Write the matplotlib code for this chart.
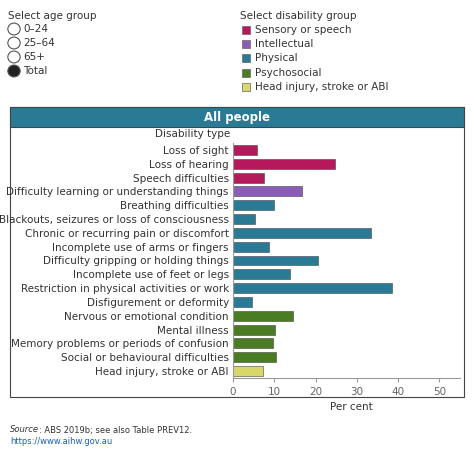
import matplotlib
matplotlib.use("Agg")
import matplotlib.pyplot as plt
from matplotlib.patches import Rectangle, Circle

categories = ["Loss of sight","Loss of hearing","Speech difficulties",
 "Difficulty learning or understanding things","Breathing difficulties",
 "Blackouts, seizures or loss of consciousness","Chronic or recurring pain or discomfort",
 "Incomplete use of arms or fingers","Difficulty gripping or holding things",
 "Incomplete use of feet or legs","Restriction in physical activities or work",
 "Disfigurement or deformity","Nervous or emotional condition","Mental illness",
 "Memory problems or periods of confusion","Social or behavioural difficulties",
 "Head injury, stroke or ABI"]
values = [5.7,24.6,7.5,16.6,9.9,5.3,33.5,8.8,20.6,13.7,38.5,4.6,14.5,10.2,9.6,10.4,7.3]
groups = ["Sensory or speech"]*3+["Intellectual"]+["Physical"]*8+["Psychosocial"]*4+["Head injury, stroke or ABI"]
group_names = ["Sensory or speech","Intellectual","Physical","Psychosocial","Head injury, stroke or ABI"]
group_colors = {"Sensory or speech":"#b5195b","Intellectual":"#8a5cb8","Physical":"#2a7a96",
                "Psychosocial":"#4a7d23","Head injury, stroke or ABI":"#d8d86a"}
age_groups = ["0–24","25–64","65+","Total"]
xticks = [0,10,20,30,40,50]

W,H = 474,455
fig = plt.figure(figsize=(W/100,H/100),dpi=100)
def fx(x): return x/W
def fy(y): return 1-y/H
tc = "#333333"
fig.text(fx(8),fy(16),"Select age group",fontsize=7.5,color=tc,va="center")
for i,a in enumerate(age_groups):
    y = 29+i*14
    fig.patches.append(Circle((fx(14),fy(y)),0.013,transform=fig.transFigure,
        facecolor="#222222" if a=="Total" else "white",edgecolor="#555555",lw=0.8))
    fig.text(fx(23),fy(y),a,fontsize=7.5,color=tc,va="center")
fig.text(fx(240),fy(16),"Select disability group",fontsize=7.5,color=tc,va="center")
for i,g in enumerate(group_names):
    y = 30+i*14.2
    fig.patches.append(Rectangle((fx(242),fy(y+4)),fx(8),8/H,transform=fig.transFigure,
        facecolor=group_colors[g],edgecolor="#666666",lw=0.5))
    fig.text(fx(255),fy(y),g,fontsize=7.5,color=tc,va="center")

# panel
fig.patches.append(Rectangle((fx(10),fy(397)),fx(454),290/H,transform=fig.transFigure,
    facecolor="white",edgecolor="#444444",lw=0.8,zorder=-10))
fig.patches.append(Rectangle((fx(10),fy(127)),fx(454),20/H,transform=fig.transFigure,
    facecolor="#2a7a96",edgecolor="#444444",lw=0.8,zorder=-9))
fig.text(fx(237),fy(117),"All people",fontsize=8.5,color="white",weight="bold",ha="center",va="center")
fig.text(fx(230),fy(134),"Disability type",fontsize=7.5,color=tc,ha="right",va="center")

ax = fig.add_axes([fx(233),fy(378),fx(460-233),(378-143)/H])
ax.patch.set_alpha(0)
y = range(len(categories))
ax.barh(list(y),values,height=0.72,color=[group_colors[g] for g in groups],edgecolor="#444444",lw=0.4)
ax.set_ylim(len(categories)-0.5,-0.5)
ax.set_xlim(0,55)
ax.set_yticks(list(y))
ax.set_yticklabels(categories,fontsize=7.5,color=tc)
ax.set_xticks(xticks)
ax.set_xticklabels([str(t) for t in xticks],fontsize=7.5,color="#666666")
ax.tick_params(axis="y",length=0,pad=3)
ax.tick_params(axis="x",length=3,color="#999999")
for s in ["top","right"]: ax.spines[s].set_visible(False)
ax.spines["left"].set_color("#999999"); ax.spines["bottom"].set_color("#999999")
fig.text(fx(351),fy(407),"Per cent",fontsize=7.5,color=tc,ha="center",va="center")
fig.text(fx(10),fy(430),"Source",fontsize=6,color=tc,style="italic",va="center")
fig.text(fx(39),fy(430),": ABS 2019b; see also Table PREV12.",fontsize=6,color=tc,va="center")
fig.text(fx(10),fy(441),"https://www.aihw.gov.au",fontsize=6,color="#1a5fb4",va="center")
fig.savefig("out.png",dpi=100)
